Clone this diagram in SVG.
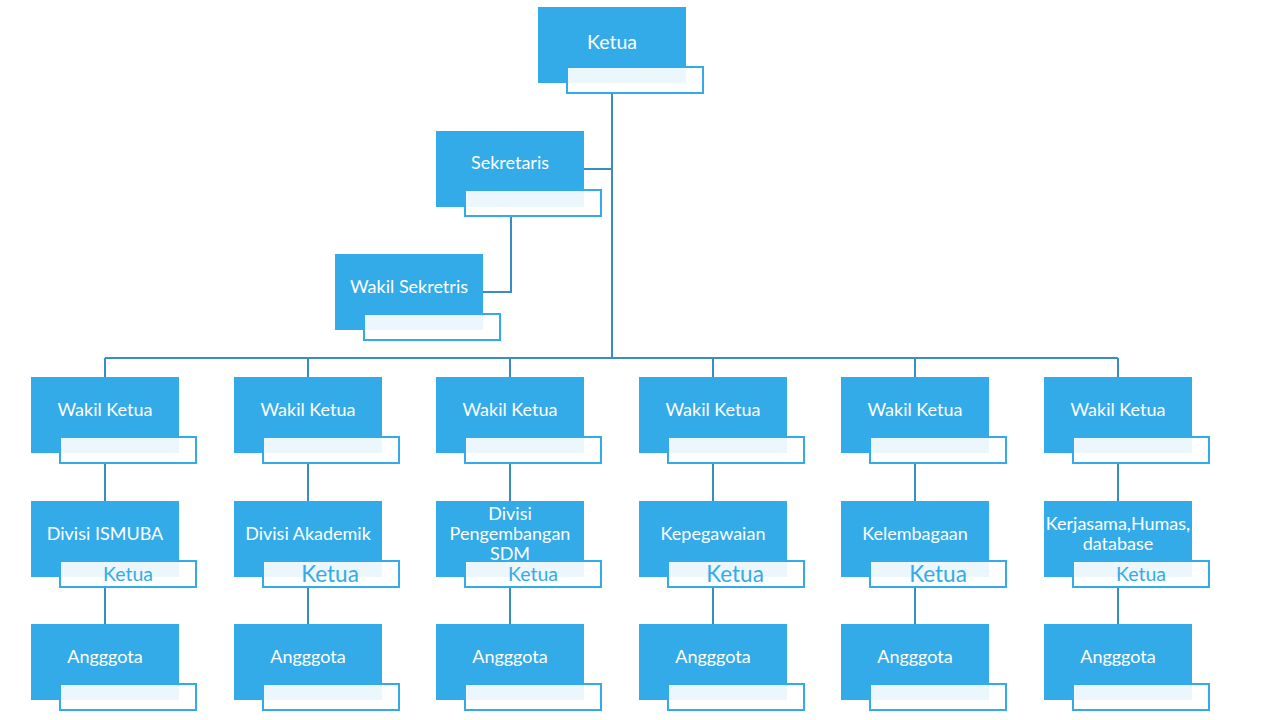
<svg xmlns="http://www.w3.org/2000/svg" width="1280" height="720" viewBox="0 0 1280 720">
<style>
.box{fill:#33ABE9}
.lab{fill:#ffffff;fill-opacity:0.9;stroke:#33ABE9;stroke-width:2}
.t{font-family:Lato,"Liberation Sans",sans-serif;font-size:18px;fill:#ffffff;text-anchor:middle;dominant-baseline:central}
.k{font-family:Lato,"Liberation Sans",sans-serif;fill:#33ABE9;text-anchor:middle;dominant-baseline:central}
.ks{font-size:19.5px}
.kl{font-size:22.5px}
.c{fill:none;stroke:#3A8DC2;stroke-width:2}
</style>
<rect width="1280" height="720" fill="#ffffff"/>
<g id="connectors">
<path class="c" d="M612 93V358M105 358H1118M105 358V377M308 358V377M510 358V377M713 358V377M915 358V377M1118 358V377M584 169H612M511 216V292H483"/>
<path class="c" d="M105 463V501M308 463V501M510 463V501M713 463V501M915 463V501M1118 463V501M105 587V624M308 587V624M510 587V624M713 587V624M915 587V624M1118 587V624"/>
</g>
<g id="ketua"><rect class="box" x="538" y="7" width="148" height="76"/><rect class="lab" x="567" y="67" width="136" height="26"/><text class="t" x="612" y="41" style="font-size:19.5px">Ketua</text></g>
<g id="sekretaris"><rect class="box" x="436" y="131" width="148" height="76"/><rect class="lab" x="465" y="190" width="136" height="26"/><text class="t" x="510" y="162">Sekretaris</text></g>
<g id="wakil-sekretaris"><rect class="box" x="335" y="254" width="148" height="76"/><rect class="lab" x="364" y="314" width="136" height="26"/><text class="t" x="409" y="286">Wakil Sekretris</text></g>
<g id="wk1"><rect class="box" x="31" y="377" width="148" height="76"/><rect class="lab" x="60" y="437" width="136" height="26"/><text class="t" x="105" y="409">Wakil Ketua</text></g>
<g id="wk2"><rect class="box" x="234" y="377" width="148" height="76"/><rect class="lab" x="263" y="437" width="136" height="26"/><text class="t" x="308" y="409">Wakil Ketua</text></g>
<g id="wk3"><rect class="box" x="436" y="377" width="148" height="76"/><rect class="lab" x="465" y="437" width="136" height="26"/><text class="t" x="510" y="409">Wakil Ketua</text></g>
<g id="wk4"><rect class="box" x="639" y="377" width="148" height="76"/><rect class="lab" x="668" y="437" width="136" height="26"/><text class="t" x="713" y="409">Wakil Ketua</text></g>
<g id="wk5"><rect class="box" x="841" y="377" width="148" height="76"/><rect class="lab" x="870" y="437" width="136" height="26"/><text class="t" x="915" y="409">Wakil Ketua</text></g>
<g id="wk6"><rect class="box" x="1044" y="377" width="148" height="76"/><rect class="lab" x="1073" y="437" width="136" height="26"/><text class="t" x="1118" y="409">Wakil Ketua</text></g>
<g id="div1"><rect class="box" x="31" y="501" width="148" height="76"/><rect class="lab" x="60" y="561" width="136" height="26"/><text class="t" x="105" y="533">Divisi ISMUBA</text><text class="k ks" x="128" y="573">Ketua</text></g>
<g id="div2"><rect class="box" x="234" y="501" width="148" height="76"/><rect class="lab" x="263" y="561" width="136" height="26"/><text class="t" x="308" y="533">Divisi Akademik</text><text class="k kl" x="330" y="573">Ketua</text></g>
<g id="div3"><rect class="box" x="436" y="501" width="148" height="76"/><rect class="lab" x="465" y="561" width="136" height="26"/><text class="t" x="510" y="513">Divisi</text><text class="t" x="510" y="533">Pengembangan</text><text class="t" x="510" y="553">SDM</text><text class="k ks" x="533" y="573">Ketua</text></g>
<g id="div4"><rect class="box" x="639" y="501" width="148" height="76"/><rect class="lab" x="668" y="561" width="136" height="26"/><text class="t" x="713" y="533">Kepegawaian</text><text class="k kl" x="735" y="573">Ketua</text></g>
<g id="div5"><rect class="box" x="841" y="501" width="148" height="76"/><rect class="lab" x="870" y="561" width="136" height="26"/><text class="t" x="915" y="533">Kelembagaan</text><text class="k kl" x="938" y="573">Ketua</text></g>
<g id="div6"><rect class="box" x="1044" y="501" width="148" height="76"/><rect class="lab" x="1073" y="561" width="136" height="26"/><text class="t" x="1118" y="523">Kerjasama,Humas,</text><text class="t" x="1118" y="543">database</text><text class="k ks" x="1141" y="573">Ketua</text></g>
<g id="ang1"><rect class="box" x="31" y="624" width="148" height="76"/><rect class="lab" x="60" y="684" width="136" height="26"/><text class="t" x="105" y="656">Angggota</text></g>
<g id="ang2"><rect class="box" x="234" y="624" width="148" height="76"/><rect class="lab" x="263" y="684" width="136" height="26"/><text class="t" x="308" y="656">Angggota</text></g>
<g id="ang3"><rect class="box" x="436" y="624" width="148" height="76"/><rect class="lab" x="465" y="684" width="136" height="26"/><text class="t" x="510" y="656">Angggota</text></g>
<g id="ang4"><rect class="box" x="639" y="624" width="148" height="76"/><rect class="lab" x="668" y="684" width="136" height="26"/><text class="t" x="713" y="656">Angggota</text></g>
<g id="ang5"><rect class="box" x="841" y="624" width="148" height="76"/><rect class="lab" x="870" y="684" width="136" height="26"/><text class="t" x="915" y="656">Angggota</text></g>
<g id="ang6"><rect class="box" x="1044" y="624" width="148" height="76"/><rect class="lab" x="1073" y="684" width="136" height="26"/><text class="t" x="1118" y="656">Angggota</text></g>
</svg>
